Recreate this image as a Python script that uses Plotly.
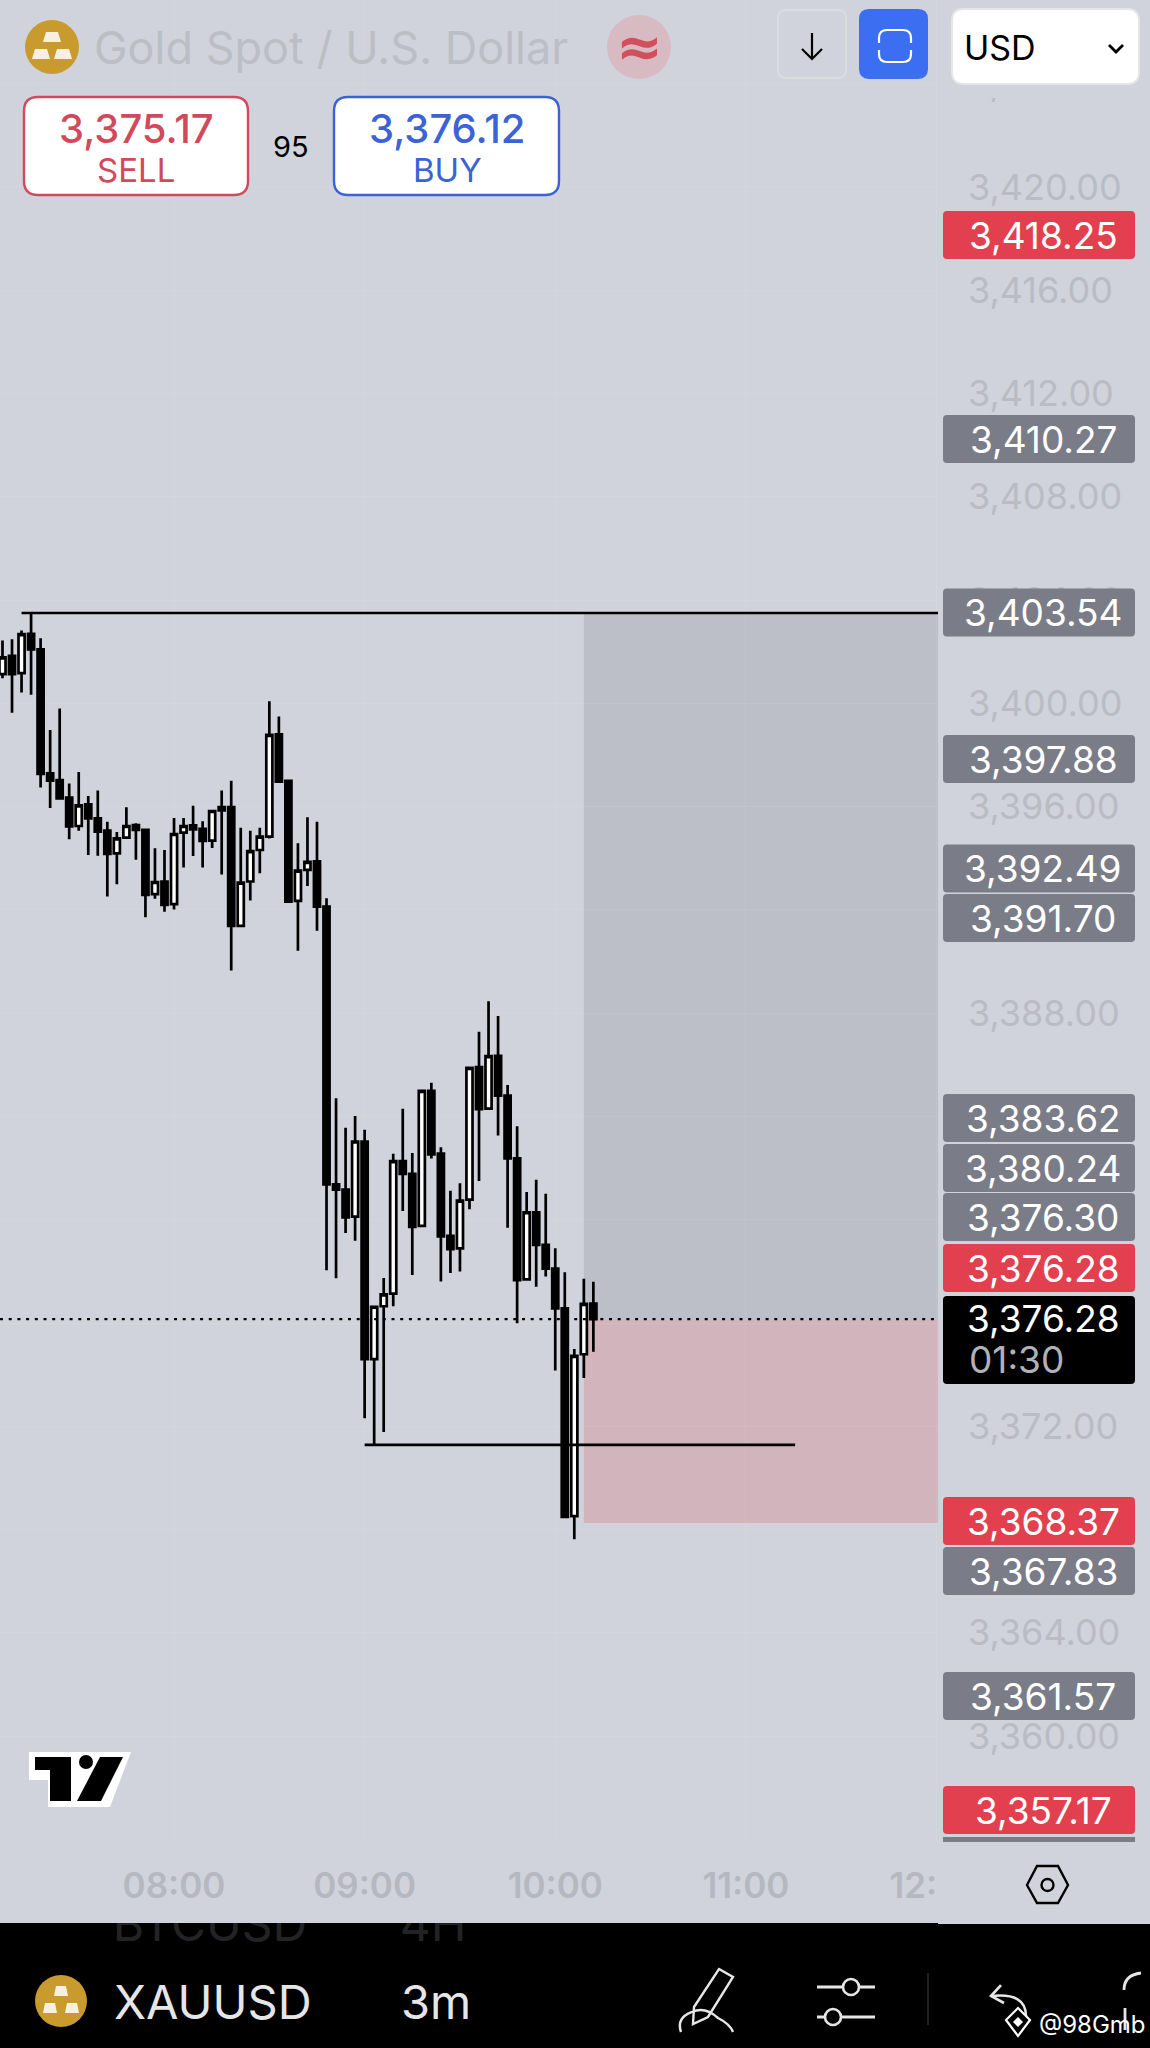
import pandas as pd
import plotly.graph_objects as go

W, H = 1150, 2048
BG = "#d0d3db"
PLOT_R, PLOT_B = 938, 1842

# --- Data (one candle per 3 minutes, 07:06 to 10:12) ---
opens = [3401.13,3401.84,3401.17,3402.69,3402.09,3397.29,3397.03,3396.35,3395.25,3396.09,3395.55,3395.07,3394.19,3394.80,3395.28,
         3395.10,3392.61,3393.10,3392.22,3394.99,3395.27,3395.14,3394.68,3395.98,3395.98,3391.38,3393.10,3394.32,3394.84,3398.80,
         3397.00,3392.35,3393.55,3393.88,3392.13,3381.37,3381.17,3380.12,3383.03,3374.60,3376.65,3377.14,3382.27,3381.78,3379.76,
         3384.99,3382.56,3379.38,3378.89,3380.78,3385.91,3384.30,3386.35,3384.81,3382.38,3377.69,3380.29,3379.03,3378.11,3376.57,
         3368.52,3374.79,3376.75]
closes = [3401.78,3401.13,3402.68,3402.09,3397.27,3397.01,3396.32,3395.23,3396.05,3395.54,3395.03,3394.17,3394.77,3395.25,3395.10,
          3392.58,3393.08,3392.19,3394.94,3395.25,3395.12,3394.67,3395.83,3395.85,3391.38,3393.06,3394.28,3394.84,3398.78,3396.97,
          3392.32,3393.52,3393.86,3392.13,3381.37,3381.17,3380.09,3383.03,3374.60,3376.63,3377.11,3382.27,3381.78,3379.72,3384.99,
          3382.53,3379.35,3378.86,3380.74,3385.88,3384.28,3386.34,3384.81,3382.38,3377.66,3380.29,3379.03,3378.11,3376.57,3368.49,
          3374.73,3376.74,3376.15]
highs = [3402.43,3402.48,3402.82,3403.49,3402.52,3398.97,3399.80,3396.90,3397.34,3396.41,3396.62,3395.41,3395.02,3395.98,3395.36,
         3395.10,3394.39,3394.32,3395.56,3395.56,3396.03,3395.43,3395.85,3396.62,3397.00,3395.18,3395.07,3395.18,3400.08,3399.49,
         3397.00,3394.58,3395.59,3395.41,3392.45,3384.71,3383.56,3384.02,3383.49,3376.63,3377.74,3382.56,3384.30,3382.58,3384.99,
         3385.31,3382.81,3381.12,3381.41,3385.88,3387.28,3388.46,3387.89,3385.22,3383.62,3381.07,3381.55,3381.01,3378.90,3377.97,
         3374.99,3377.71,3377.60]
lows = [3400.97,3399.64,3400.42,3400.33,3396.74,3395.95,3396.32,3394.74,3395.07,3394.13,3394.10,3392.52,3392.99,3394.80,3393.94,
        3391.72,3392.43,3391.93,3392.02,3393.64,3394.09,3393.64,3394.40,3393.37,3389.65,3391.38,3392.36,3393.42,3394.77,3396.97,
        3392.32,3390.42,3392.93,3391.19,3378.04,3377.73,3379.49,3379.19,3372.31,3371.31,3371.78,3376.65,3380.34,3377.86,3379.76,
        3382.37,3377.61,3377.94,3378.00,3380.41,3381.50,3384.30,3383.26,3379.69,3375.99,3377.69,3377.40,3377.80,3374.16,3368.49,
        3367.63,3373.87,3374.89]
times = pd.date_range("2025-06-17 07:06", periods=len(opens), freq="3min")

price_ticks = [3424,3420,3416,3412,3408,3404,3400,3396,3392,3388,3384,3380,3376,3372,3368,3364,3360]
# 3392, 3384, 3380, 3376 and 3368 lie wholly behind price badges in the picture
price_tick_text = ["3,424.00","3,420.00","3,416.00","3,412.00","3,408.00","3,404.00","3,400.00","3,396.00","",
                   "3,388.00","","","","3,372.00","","3,364.00","3,360.00"]
hour_ticks = ["2025-06-17 08:00","2025-06-17 09:00","2025-06-17 10:00","2025-06-17 11:00","2025-06-17 12:00"]
hour_text = ["08:00","09:00","10:00","11:00","12:00"]

resistance = 3403.50
last_price = 3376.15
support = 3371.28
stop_level = 3368.25

badge_text = ["3,418.25","3,410.27","3,403.54","3,397.88","3,392.49","3,391.70","3,383.62","3,380.24",
              "3,376.30","3,376.28","3,368.37","3,367.83","3,361.57","3,357.17"]
badge_kind = ["r","g","g","g","g","g","g","g","g","r","r","g","g","r"]
badge_row = [235,439,612.5,759,868.5,918,1118,1168,1217,1268,1521,1571,1696,1810]

ghost_labels = ["BTCUSD", "4H"]
ghost_x = [210, 433]
ghost_y = [1929, 1929]

RED, GREY = "#e2404e", "#7a7c87"
SELL_RED, BUY_BLUE = "#d1495b", "#3b62d6"


def px(x): return x / W
def py(y): return 1 - y / H


def path(points, close=False):
    return "M " + " L ".join(f"{px(x):.5f},{py(y):.5f}" for x, y in points) + (" Z" if close else "")


def rrect(x0, y0, x1, y1, r):
    p = lambda x, y: f"{px(x):.5f},{py(y):.5f}"
    return (f"M {p(x0+r,y0)} L {p(x1-r,y0)} Q {p(x1,y0)} {p(x1,y0+r)} L {p(x1,y1-r)} Q {p(x1,y1)} {p(x1-r,y1)} "
            f"L {p(x0+r,y1)} Q {p(x0,y1)} {p(x0,y1-r)} L {p(x0,y0+r)} Q {p(x0,y0)} {p(x0+r,y0)} Z")


def curve(d):
    out = []
    for seg in d:
        c = seg[0]
        pts = seg[1:]
        out.append(c + " " + " ".join(f"{px(pts[i]):.5f},{py(pts[i+1]):.5f}" for i in range(0, len(pts), 2)))
    return " ".join(out)


shapes, notes = [], []


def s_path(d, fill=None, line=None, lw=0, layer="above"):
    shapes.append(dict(type="path", path=d, xref="paper", yref="paper", layer=layer,
                       fillcolor=fill or "rgba(0,0,0,0)",
                       line=dict(color=line or "rgba(0,0,0,0)", width=lw)))


def s_circle(cx, cy, r, fill=None, line=None, lw=0):
    shapes.append(dict(type="circle", xref="paper", yref="paper", layer="above",
                       x0=px(cx-r), x1=px(cx+r), y0=py(cy+r), y1=py(cy-r),
                       fillcolor=fill or "rgba(0,0,0,0)",
                       line=dict(color=line or "rgba(0,0,0,0)", width=lw)))


def label(text, x, y, size, color, anchor="center", weight=400, family="Inter"):
    notes.append(dict(text=text, x=px(x), y=py(y), xref="paper", yref="paper", xanchor=anchor, yanchor="middle",
                      showarrow=False, align=anchor if anchor != "center" else "center",
                      font=dict(family=family, size=size, color=color, weight=weight)))


# Bottom bar sits under the traces so that the ghost labels can lie on it
s_path(rrect(0, 1923, 1150, 2048, 0), fill="#000000", layer="below")

# Risk / reward zones and levels
x_zone = "2025-06-17 10:09"
x_end = "2025-06-17 12:00:29"
shapes.append(dict(type="rect", xref="x", yref="y", x0=x_zone, x1=x_end, y0=last_price, y1=resistance,
                   fillcolor="#bcbfc8", line_width=0, layer="below"))
shapes.append(dict(type="rect", xref="x", yref="y", x0=x_zone, x1=x_end, y0=stop_level, y1=last_price,
                   fillcolor="#d2b4bc", line_width=0, layer="below"))
shapes.append(dict(type="line", xref="x", yref="y", x0="2025-06-17 07:12", x1=x_end, y0=resistance, y1=resistance,
                   line=dict(color="#000", width=2.6), layer="above"))
shapes.append(dict(type="line", xref="x", yref="y", x0="2025-06-17 09:00", x1="2025-06-17 11:15:30", y0=support, y1=support,
                   line=dict(color="#000", width=2.6), layer="above"))
shapes.append(dict(type="line", xref="x", yref="y", x0="2025-06-17 07:05:13", x1=x_end, y0=last_price, y1=last_price,
                   line=dict(color="#000", width=2.4, dash="3px,5.7px"), layer="above"))

# Strip right of the time axis (hides the cut 12:00 label), strip that cuts the ghost labels
s_path(rrect(938, 1843, 1150, 1924, 0), fill=BG)
s_path(rrect(0, 1905, 1150, 1923, 0), fill=BG)
# Strip under the USD selector: only the tail of the cut top tick label shows
s_path(rrect(940, 80, 1150, 98, 0), fill=BG)

# Price badges
for t, k, yy in zip(badge_text, badge_kind, badge_row):
    s_path(rrect(943, yy-24, 1135, yy+24, 4), fill=RED if k == "r" else GREY)
    label(t, 1043, yy, 37, "#ffffff")
s_path(rrect(943, 1296, 1135, 1384, 4), fill="#000000")
label("3,376.28", 1043, 1318, 37, "#ffffff")
label("01:30", 967, 1359, 37, "#b0b2b8", anchor="left")
s_path(rrect(943, 1837, 1135, 1842, 0), fill=GREY)

# Header
s_circle(52, 47, 27, fill="#c99a2e")
for cx, cy in [(52, 37), (41, 54), (63, 54)]:
    s_path(path([(cx-6, cy-5), (cx+6, cy-5), (cx+9, cy+5), (cx-9, cy+5)], True), fill="#f7efe0")
label("Gold Spot / U.S. Dollar", 92, 47, 45, "#bcbec6", anchor="left")
s_circle(639, 47, 32, fill="#d8bac2")
label("≈", 639, 46, 56, "#d2505c", weight=700, family="DejaVu Sans")
s_path(rrect(778, 10, 846, 78, 8), line="#dadce2", lw=2)
s_path(path([(812, 33), (812, 59)]), line="#000", lw=2.2)
s_path(path([(802, 49), (812, 59), (822, 49)]), line="#000", lw=2.2)
s_path(rrect(859, 9, 928, 79, 10), fill="#3c6ef2")
s_path(curve([("M", 879, 43), ("L", 879, 38), ("Q", 879, 30, 887, 30), ("L", 903, 30), ("Q", 911, 30, 911, 38), ("L", 911, 43)]),
       line="#ffffff", lw=2.2)
s_path(curve([("M", 879, 50), ("L", 879, 54), ("Q", 879, 62, 887, 62), ("L", 903, 62), ("Q", 911, 62, 911, 54), ("L", 911, 50)]),
       line="#ffffff", lw=2.2)
s_path(rrect(952, 9, 1139, 84, 12), fill="#ffffff", line="#e4e6ea", lw=2)
label("USD", 962, 47, 34, "#000000", anchor="left")
s_path(path([(1109, 45), (1116, 52), (1123, 45)]), line="#000", lw=2.8)

s_path(rrect(24, 97, 248, 195, 14), fill="#ffffff", line=SELL_RED, lw=2.4)
label("3,375.17", 136, 128, 40, SELL_RED, weight=500)
label("SELL", 136, 170, 33, SELL_RED)
label("95", 291, 146, 29, "#000000")
s_path(rrect(334, 97, 559, 195, 14), fill="#ffffff", line=BUY_BLUE, lw=2.4)
label("3,376.12", 447, 128, 40, BUY_BLUE, weight=500)
label("BUY", 447, 170, 33, BUY_BLUE)

# TradingView mark
s_path(path([(29, 1752), (131, 1752), (110, 1807), (48, 1807), (48, 1780), (29, 1780)], True), fill="#ffffff")
s_path(path([(35, 1757), (71, 1757), (71, 1801), (50, 1801), (50, 1770), (35, 1770)], True), fill="#000000")
s_circle(86, 1762, 7, fill="#000000")
s_path(path([(100, 1757), (123, 1757), (101, 1801), (77, 1801)], True), fill="#000000")

# Settings hexagon
s_path(path([(1027, 1885), (1037, 1866), (1058, 1866), (1068, 1885), (1058, 1903), (1037, 1903)], True), line="#000", lw=2.4)
s_circle(1047.5, 1885, 6, line="#000", lw=2.4)

# Bottom bar content
s_circle(61, 2001, 26, fill="#c99a2e")
for cx, cy in [(61, 1991), (50, 2008), (72, 2008)]:
    s_path(path([(cx-5, cy-5), (cx+5, cy-5), (cx+7, cy+5), (cx-7, cy+5)], True), fill="#f7efe0")
label("XAUUSD", 112, 2001, 47, "#e6e6e8", anchor="left")
label("3m", 399, 2001, 47, "#e6e6e8", anchor="left")

s_path(path([(719, 1969), (733, 1977), (708, 2017), (693, 2024), (694, 2007)], True), line="#e6e6e8", lw=2.4)
s_path(curve([("M", 681, 2032), ("Q", 676, 2018, 692, 2012), ("Q", 705, 2006, 718, 2018), ("Q", 730, 2024, 733, 2032)]),
       line="#e6e6e8", lw=2.4)
s_path(path([(817, 1987), (875, 1987)]), line="#e6e6e8", lw=3)
s_circle(851, 1987, 8, fill="#000000", line="#e6e6e8", lw=2.6)
s_path(path([(817, 2017), (875, 2017)]), line="#e6e6e8", lw=3)
s_circle(833, 2017, 8, fill="#000000", line="#e6e6e8", lw=2.6)
s_path(path([(928, 1973), (928, 2025)]), line="#2a2a2c", lw=1.5)
s_path(path([(1001, 1985), (991, 1996), (1004, 2003)]), line="#e6e6e8", lw=2.6)
s_path(curve([("M", 991, 1996), ("Q", 1026, 1992, 1026, 2016)]), line="#e6e6e8", lw=2.6)
s_path(curve([("M", 1141, 1973), ("Q", 1124, 1975, 1124, 1990)]), line="#e6e6e8", lw=2.8)
s_path(path([(1125, 2008), (1125, 2030)]), line="#e6e6e8", lw=2.8)
s_path(path([(1018, 2008), (1030, 2020), (1018, 2036), (1006, 2020)], True), line="#ffffff", lw=2.2)
s_path(path([(1018, 2017), (1023, 2022), (1018, 2027), (1013, 2022)], True), fill="#ffffff")
label("@98Gmb", 1037, 2024, 24, "#ffffff", anchor="left")

fig = go.Figure(go.Candlestick(
    x=times, open=opens, high=highs, low=lows, close=closes, whiskerwidth=0,
    increasing=dict(line=dict(color="#000000", width=2.7), fillcolor="#ffffff"),
    decreasing=dict(line=dict(color="#000000", width=2.7), fillcolor="#000000"),
    showlegend=False, hoverinfo="skip",
))
fig.add_trace(go.Scatter(x=ghost_x, y=ghost_y, text=ghost_labels, mode="text", xaxis="x2", yaxis="y2",
                         cliponaxis=False, hoverinfo="skip", showlegend=False,
                         textfont=dict(family="Inter", size=48, color="#232325")))

GRID = "rgba(255,255,255,0.07)"
fig.update_layout(
    width=W, height=H, margin=dict(l=0, r=0, t=0, b=0, autoexpand=False), autosize=False,
    paper_bgcolor=BG, plot_bgcolor="rgba(0,0,0,0)", showlegend=False, boxgap=0.36, boxgroupgap=0,
    shapes=shapes, annotations=notes,
    xaxis=dict(type="date", domain=[0, PLOT_R / W], range=["2025-06-17 07:05:13", x_end], automargin=False,
               rangeslider=dict(visible=False), tickmode="array", tickvals=hour_ticks, ticktext=hour_text,
               showgrid=True, gridcolor=GRID, gridwidth=1, zeroline=False, showline=False, ticks="",
               ticklabelstandoff=20, tickfont=dict(family="Inter", size=35, color="#b5b8c0", weight=600)),
    yaxis=dict(domain=[1 - PLOT_B / H, 1], range=[3355.90, 3427.24], side="right", tickmode="array", automargin=False,
               tickvals=price_ticks, ticktext=price_tick_text,
               showgrid=True, gridcolor=GRID, gridwidth=1, zeroline=False, showline=False, ticks="",
               ticklabelstandoff=29, tickfont=dict(family="Inter", size=36, color="#b9bcc4")),
    xaxis2=dict(domain=[0, 1], range=[0, W], visible=False, anchor="y2", automargin=False),
    yaxis2=dict(domain=[0, 123 / H], range=[2048, 1925], visible=False, anchor="x2", automargin=False),
)

fig.write_html("out.html", config={"displayModeBar": False},
               post_script="document.body.style.margin='0';document.body.style.overflow='hidden';")
